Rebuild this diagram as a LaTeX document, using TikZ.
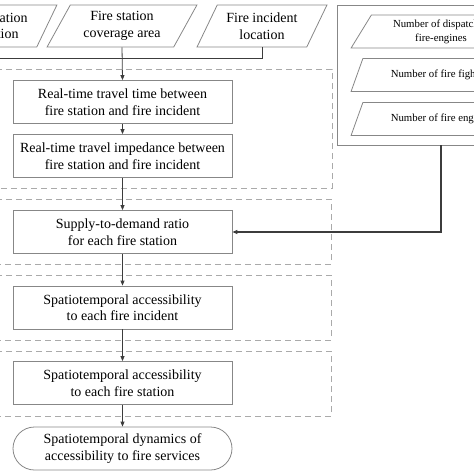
\documentclass[tikz,border=0pt]{standalone}
\usepackage{fontspec}
\setmainfont{Liberation Serif}
\usetikzlibrary{shapes.geometric,arrows.meta}

\definecolor{boxgray}{RGB}{135,135,135}
\definecolor{dashgray}{RGB}{170,170,170}
\definecolor{linegray}{RGB}{60,60,60}

\tikzset{
  stage/.style={draw=boxgray, line width=0.8pt, minimum width=219pt, minimum height=43pt,
    align=center, font=\fontsize{14}{16.5}\selectfont},
  source/.style={trapezium, trapezium left angle=62, trapezium right angle=118,
    trapezium stretches=true, draw=boxgray, line width=0.8pt, minimum height=42pt,
    align=center, font=\fontsize{14}{16.5}\selectfont},
  supply/.style={trapezium, trapezium left angle=64, trapezium right angle=116,
    trapezium stretches=true, draw=boxgray, line width=0.8pt, minimum width=180pt,
    minimum height=33pt, align=center, font=\fontsize{10.8}{14}\selectfont},
  group/.style={draw=dashgray, line width=0.8pt, dash pattern=on 6pt off 4pt},
  link/.style={draw=linegray, line width=0.8pt},
  flow/.style={link, -{Triangle[length=5pt,width=4pt]}}
}

\begin{document}
\begin{tikzpicture}[x=1pt,y=-1pt]
  \useasboundingbox (0,0) rectangle (474,474);
  \clip (0,0) rectangle (474,474);

  % input data
  \node[source, minimum width=122pt] (station) at (-4,26) {Fire station\\location};
  \node[source, minimum width=150pt] (coverage) at (122,26) {Fire station\\coverage area};
  \node[source, minimum width=130pt] (incident) at (262,26) {Fire incident\\location};

  % dashed stages
  \draw[group] (-10,69) rectangle (332,188);
  \draw[group] (-10,199) rectangle (331,264);
  \draw[group] (-10,275) rectangle (331,340);
  \draw[group] (-10,351) rectangle (331,416);

  \node[stage] (time) at (122.5,102) {Real-time travel time between\\fire station and fire incident};
  \node[stage] (impedance) at (122.5,156) {Real-time travel impedance between\\fire station and fire incident};
  \node[stage] (ratio) at (122.5,232) {Supply-to-demand ratio\\for each fire station};
  \node[stage] (accinc) at (122.5,307.5) {Spatiotemporal accessibility\\to each fire incident};
  \node[stage] (accsta) at (122.5,383) {Spatiotemporal accessibility\\to each fire station};
  \node[stage, rounded corners=21.5pt] (dynamics) at (122.5,448.5)
    {Spatiotemporal dynamics of\\accessibility to fire services};

  % supply side
  \node[draw=boxgray, line width=0.8pt, minimum width=208pt, minimum height=140pt] (panel) at (441,75) {};
  \node[supply] (dispatched) at (441,31.5) {Number of dispatched\\fire-engines};
  \node[supply] (fighters) at (441,75) {Number of fire fighters};
  \node[supply] (engines) at (441,119) {Number of fire engines};

  % connectors
  \coordinate (bus) at (0,58);
  \draw[link] (station.south) |- (incident.south |- bus) -- (incident.south);
  \draw[flow] (coverage.south) -- (time.north);
  \draw[flow] (time) -- (impedance);
  \draw[flow] (impedance) -- (ratio);
  \draw[flow] (ratio) -- (accinc);
  \draw[flow] (accinc) -- (accsta);
  \draw[flow] (accsta) -- (dynamics);
  \draw[flow, line width=1.3pt] (panel.south) |- (ratio.east);
\end{tikzpicture}
\end{document}
